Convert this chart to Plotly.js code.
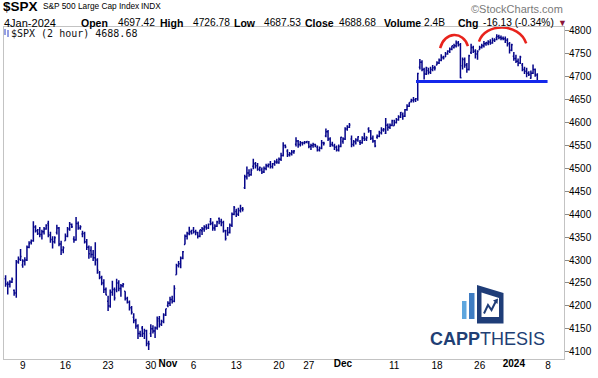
<!DOCTYPE html>
<html><head><meta charset="utf-8">
<script src="https://cdn.plot.ly/plotly-3.0.1.min.js"></script>
<style>html,body{margin:0;padding:0;background:#fff}#chart{width:598px;height:378px}</style>
</head><body><div id="chart"></div>
<script>
// 2-hour bars, SPX, 5-Oct-2023 .. 4-Jan-2024
const openP = [4259,4248,4247,4252,4234,4228,4296,4302,4289,4298,4300,4328,4339,4342,4372,4364,4366,4356,4362,4368,
4380,4355,4345,4340,4360,4370,4335,4322,4342,4352,4368,4378,4346,4344,4380,4370,4357,4358,4340,4328,
4321,4312,4305,4300,4273,4262,4250,4236,4210,4200,4230,4236,4235,4250,4238,4244,4232,4216,4208,4196,
4175,4168,4156,4140,4152,4140,4146,4118,4140,4150,4145,4152,4172,4160,4166,4180,4201,4206,4214,4210,
4268,4288,4292,4304,4334,4352,4358,4362,4365,4362,4360,4352,4364,4368,4372,4370,4384,4380,4370,4374,
4391,4384,4382,4364,4364,4360,4376,4400,4406,4400,4408,4412,4458,4482,4490,4486,4505,4510,4506,4498,
4497,4492,4500,4506,4509,4504,4510,4514,4512,4520,4528,4550,4538,4530,4532,4536,4553,4560,4552,4556,
4555,4557,4555,4548,4550,4552,4546,4540,4544,4556,4571,4580,4564,4552,4549,4546,4540,4548,4559,4564,
4586,4590,4564,4552,4558,4562,4557,4556,4566,4564,4586,4582,4566,4560,4568,4570,4578,4584,4577,4594,
4590,4594,4593,4600,4606,4612,4618,4614,4628,4636,4646,4649,4650,4652,4721,4732,4716,4706,4714,4710,
4716,4720,4726,4730,4736,4742,4743,4750,4756,4760,4764,4768,4774,4770,4724,4738,4726,4716,4753,4764,
4756,4750,4759,4764,4768,4772,4773,4776,4774,4780,4786,4788,4786,4784,4783,4780,4772,4758,4745,4740,
4734,4730,4726,4716,4712,4708,4697,4708,4716,4704];
const highP = [4267,4253,4256,4262,4236,4300,4308,4324,4302,4306,4332,4341,4345,4385,4376,4368,4372,4366,4372,4378,
4386,4362,4352,4352,4377,4372,4342,4330,4358,4372,4383,4380,4352,4394,4384,4376,4364,4362,4346,4332,
4330,4322,4339,4304,4276,4266,4258,4240,4222,4236,4255,4240,4259,4256,4248,4250,4232,4220,4212,4200,
4184,4172,4160,4146,4156,4150,4148,4124,4160,4158,4155,4177,4178,4170,4184,4194,4210,4220,4222,4245,
4292,4298,4308,4320,4356,4362,4373,4366,4372,4366,4362,4366,4372,4376,4378,4380,4392,4384,4378,4386,
4393,4390,4386,4366,4372,4380,4404,4418,4412,4414,4421,4416,4486,4504,4498,4500,4521,4514,4512,4504,
4502,4504,4510,4511,4516,4512,4518,4521,4524,4534,4557,4552,4542,4536,4540,4540,4568,4562,4560,4558,
4560,4560,4560,4554,4556,4554,4550,4548,4562,4558,4587,4584,4568,4558,4554,4550,4552,4569,4568,4590,
4594,4599,4572,4562,4566,4570,4562,4570,4578,4570,4590,4584,4572,4562,4574,4582,4590,4588,4610,4598,
4598,4606,4606,4610,4616,4623,4622,4630,4640,4644,4652,4656,4654,4709,4739,4736,4720,4722,4720,4722,
4726,4724,4734,4740,4749,4746,4754,4758,4764,4768,4772,4779,4778,4774,4742,4742,4730,4748,4772,4768,
4760,4758,4768,4772,4778,4776,4780,4782,4785,4784,4793,4792,4790,4788,4788,4784,4776,4772,4754,4748,
4740,4746,4730,4722,4720,4712,4714,4727,4718,4708];
const lowP = [4242,4225,4240,4250,4222,4218,4292,4298,4283,4288,4298,4326,4334,4340,4360,4355,4350,4345,4356,4366,
4350,4338,4325,4336,4356,4330,4311,4315,4342,4350,4364,4370,4338,4342,4366,4366,4350,4336,4322,4303,
4305,4298,4288,4270,4258,4245,4228,4223,4189,4196,4222,4212,4230,4232,4220,4240,4212,4205,4190,4181,
4162,4150,4128,4132,4132,4128,4112,4104,4132,4140,4130,4148,4153,4156,4162,4178,4197,4200,4205,4208,
4268,4284,4282,4302,4334,4345,4354,4356,4358,4354,4347,4350,4355,4362,4366,4368,4376,4364,4364,4372,
4378,4374,4360,4343,4353,4358,4372,4398,4394,4396,4404,4406,4455,4476,4482,4484,4498,4500,4495,4494,
4488,4490,4496,4502,4500,4500,4506,4510,4510,4516,4526,4544,4525,4526,4528,4532,4548,4545,4548,4550,
4553,4555,4544,4540,4545,4546,4537,4537,4542,4550,4568,4560,4547,4548,4540,4537,4537,4546,4554,4562,
4582,4588,4546,4548,4552,4558,4551,4554,4560,4560,4578,4562,4556,4546,4565,4568,4574,4580,4575,4582,
4586,4592,4593,4598,4604,4610,4606,4612,4626,4634,4644,4644,4645,4648,4716,4712,4694,4704,4705,4706,
4712,4714,4725,4728,4734,4738,4743,4748,4752,4758,4762,4764,4766,4697,4716,4720,4709,4714,4750,4752,
4740,4737,4759,4762,4764,4768,4769,4770,4772,4776,4780,4782,4780,4780,4774,4766,4751,4756,4735,4730,
4723,4728,4712,4706,4699,4702,4696,4706,4700,4688];
const closeP = [4248,4247,4252,4258,4228,4296,4302,4308,4298,4300,4328,4336,4342,4372,4364,4358,4356,4362,4368,4376,
4355,4345,4340,4349,4370,4335,4322,4327,4352,4368,4378,4373,4344,4380,4370,4373,4358,4340,4328,4314,
4312,4305,4300,4278,4262,4250,4236,4224,4200,4230,4236,4217,4250,4238,4244,4247,4216,4208,4196,4186,
4168,4156,4140,4137,4140,4146,4118,4117,4150,4145,4152,4167,4160,4166,4180,4194,4206,4214,4210,4238,
4288,4292,4304,4318,4352,4358,4362,4358,4362,4360,4352,4366,4368,4372,4370,4378,4380,4370,4374,4383,
4384,4382,4364,4347,4360,4376,4400,4415,4400,4408,4412,4411,4482,4490,4486,4496,4510,4506,4498,4502,
4492,4500,4506,4508,4504,4510,4514,4514,4520,4528,4550,4547,4530,4532,4536,4538,4560,4552,4556,4556,
4557,4559,4548,4550,4552,4550,4540,4544,4556,4555,4580,4564,4552,4550,4546,4540,4548,4568,4564,4586,
4590,4595,4552,4558,4562,4569,4556,4566,4564,4567,4582,4566,4560,4549,4570,4578,4584,4585,4594,4590,
4594,4604,4600,4606,4612,4622,4614,4628,4636,4644,4649,4650,4652,4707,4732,4716,4706,4720,4710,4716,
4720,4719,4730,4736,4742,4740,4750,4756,4760,4768,4768,4774,4770,4698,4738,4726,4716,4746,4764,4756,
4750,4755,4764,4768,4772,4775,4776,4774,4780,4781,4788,4786,4784,4783,4780,4772,4758,4770,4740,4734,
4730,4743,4716,4712,4708,4705,4708,4716,4704,4689];
const dayTickIdx = [8,28,48,68,88,108,128,142,182,202,222,254];
const dayTickLabels = ['9','16','23','30','6','13','20','27','11','18','26','8'];
const monthTickIdx = [76,158,238];
const monthTickLabels = ['Nov','Dec','2024'];
const yTicks = [4100,4150,4200,4250,4300,4350,4400,4450,4500,4550,4600,4650,4700,4750,4800];
const supportLevel = 4689.5, supportFrom = 192.2, supportTo = 253.8;
const arcs = [
  {x0:203.5, y0:4762.5, x1:216.5, y1:4767.0, cx0:205.5, cx1:214.5, cy:4800.0},
  {x0:221.7, y0:4776.6, x1:243.8, y1:4773.1, cx0:224.5, cx1:240.5, cy:4818.5}
];
// header: [label, value, label left x, value left x (reference)]
const headerItems = [
  ['Open', '4697.42', 80.5, 116.5], ['High', '4726.78', 158.5, 191.5], ['Low', '4687.53', 232.5, 263],
  ['Close', '4688.68', 303.5, 337.5], ['Volume', '2.4B', 382.5, 420.5], ['Chg', '-16.13 (-0.34%)', 456.5, 481.5]
];

const barIndex = openP.map((_, i) => i);
const L = 4, T = 27, W = 560, H = 332;
const px = x => (x - L) / W, py = y => 1 - (y - T) / H;
const FONT = 'Liberation Sans, Arial, sans-serif';
const navy = '#06068a';

const trace = {
  type: 'ohlc', x: barIndex, open: openP, high: highP, low: lowP, close: closeP,
  increasing: {line: {color: navy, width: 1.5}},
  decreasing: {line: {color: navy, width: 1.5}},
  tickwidth: 0.5, hoverinfo: 'skip', showlegend: false
};
const monthAxisHolder = {type: 'scatter', mode: 'lines', x: [], y: [], xaxis: 'x2', yaxis: 'y', hoverinfo: 'skip', showlegend: false};

function ann(text, x, y, size, opts) {
  return Object.assign({xref: 'paper', yref: 'paper', x: px(x), y: py(y), text: text,
    showarrow: false, xanchor: 'left', yanchor: 'middle', borderpad: 0,
    font: {family: FONT, size: size, color: '#000'}}, opts || {});
}

const annotations = [
  ann('<b>$SPX</b>', 1.5, 6.3, 13.5),
  ann('S&P 500 Large Cap Index', 41.5, 6, 8.3),
  ann('INDX', 139.5, 6, 8.3),
  ann('4Jan-2024', 2.5, 22.8, 11),
  ann('\u00A9StockCharts.com', 564, 8.8, 11, {xanchor: 'right', font: {family: FONT, size: 11, color: '#7a7a7a'}}),
  ann('\u25BC', 556.5, 22.8, 9, {font: {family: FONT, size: 9, color: '#8b1538'}}),
  ann('$SPX (2 hour) 4688.68', 10, 33, 10, {font: {family: 'DejaVu Sans Mono, monospace', size: 10, color: '#111'}}),
  ann('<b>CAPP</b>THESIS', 428.5, 338.5, 18, {font: {family: FONT, size: 18, color: '#213f74'}})
];
const measureCtx = document.createElement('canvas').getContext('2d');
const LABEL_SIZE = 10.5, VALUE_SIZE = 10.2;
headerItems.forEach(h => {
  measureCtx.font = 'bold ' + LABEL_SIZE + 'px Liberation Sans';
  const labelEnd = h[2] + measureCtx.measureText(h[0]).width;
  annotations.push(ann('<b>' + h[0] + '</b>', h[2], 22.8, LABEL_SIZE));
  annotations.push(ann(h[1], Math.max(h[3], labelEnd + 3), 22.8, VALUE_SIZE));
});

const shapes = [
  {type: 'line', xref: 'x', yref: 'y', x0: supportFrom, x1: supportTo, y0: supportLevel, y1: supportLevel,
   line: {color: 'rgb(20,40,235)', width: 3}},
];
arcs.forEach(a => shapes.push({type: 'path', xref: 'x', yref: 'y',
  path: `M${a.x0},${a.y0} C${a.cx0},${a.cy} ${a.cx1},${a.cy} ${a.x1},${a.y1}`,
  line: {color: '#e8231c', width: 2.5}}));
// legend icon
shapes.push({type: 'line', xref: 'paper', yref: 'paper', x0: px(5), x1: px(5), y0: py(29), y1: py(35), line: {color: '#2a3fc8', width: 1}});
shapes.push({type: 'line', xref: 'paper', yref: 'paper', x0: px(8), x1: px(8), y0: py(30), y1: py(37), line: {color: '#2a3fc8', width: 1}});
// logo
const box = (x0, y0, x1, y1, c) => ({type: 'rect', xref: 'paper', yref: 'paper', x0: px(x0), x1: px(x1), y0: py(y1), y1: py(y0), fillcolor: c, line: {width: 0}});
const poly = (pts, c, lw, lc) => ({type: 'path', xref: 'paper', yref: 'paper',
  path: 'M' + pts.map(p => px(p[0]) + ',' + py(p[1])).join(' L') + (c ? ' Z' : ''),
  fillcolor: c || 'rgba(0,0,0,0)', line: {width: lw || 0, color: lc || c}});
shapes.push(box(462, 301, 466.5, 319, '#5ea6de'));
shapes.push(box(469, 293, 474.5, 319, '#3e7cc2'));
shapes.push(poly([[477, 285], [503.5, 293], [503.5, 323.5], [477, 323.5]], '#1f3d78'));
shapes.push(poly([[481.5, 292.5], [499, 298], [499, 317], [481.5, 317]], '#ffffff'));
shapes.push(poly([[484, 313.5], [488, 305], [491.5, 310], [495.5, 302]], null, 2, '#1f3d78'));
shapes.push(poly([[493, 300.5], [498, 298.5], [497.5, 304]], '#1f3d78'));

const xRange = [-0.75, 261.5];
const layout = {
  width: 598, height: 378, margin: {l: L, r: 598 - L - W, t: T, b: 378 - T - H},
  paper_bgcolor: '#fff', plot_bgcolor: '#fff', showlegend: false,
  font: {family: FONT, size: 10, color: '#000'},
  xaxis: {type: 'linear', range: xRange, showgrid: false, zeroline: false,
    showline: true, mirror: true, linecolor: '#c3c3c3', linewidth: 1,
    ticks: '', tickvals: dayTickIdx, ticktext: dayTickLabels, ticklabelstandoff: -3,
    tickfont: {family: FONT, size: 10, color: '#000'},
    rangeslider: {visible: false}, fixedrange: true},
  xaxis2: {type: 'linear', overlaying: 'x', anchor: 'y', side: 'bottom', range: xRange,
    showgrid: false, zeroline: false, showline: false,
    ticks: '', tickvals: monthTickIdx, ticktext: monthTickLabels, ticklabelstandoff: -3,
    tickfont: {family: FONT, size: 10, color: '#000', weight: 'bold'}, fixedrange: true},
  yaxis: {side: 'right', range: [4084.1, 4808.7], showgrid: false, zeroline: false,
    showline: true, mirror: true, linecolor: '#c3c3c3', linewidth: 1,
    ticks: 'outside', ticklen: 4, tickcolor: '#8a8a8a', tickvals: yTicks, ticklabelstandoff: -2,
    tickfont: {family: FONT, size: 10, color: '#000'}, fixedrange: true},
  annotations: annotations, shapes: shapes
};

Plotly.newPlot('chart', [trace, monthAxisHolder], layout, {staticPlot: true, displayModeBar: false});
</script></body></html>
